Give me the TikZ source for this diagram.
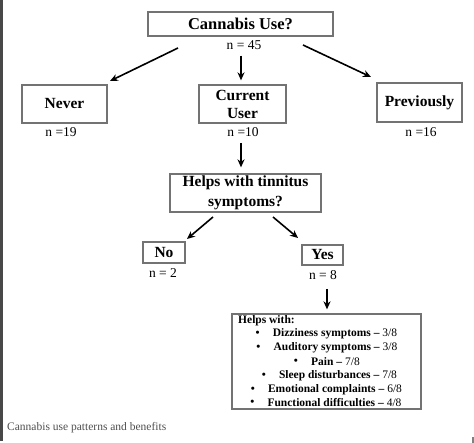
\documentclass[tikz,border=0pt]{standalone}
\usepackage{fontspec}
\setmainfont{Liberation Serif}
\usetikzlibrary{arrows.meta}
\definecolor{boxgray}{RGB}{115,115,115}
\definecolor{bargray}{RGB}{72,72,72}
\definecolor{capgray}{RGB}{80,80,80}
\begin{document}
\begin{tikzpicture}[x=1pt,y=-1pt,
  box/.style={draw=boxgray,line width=1.3pt,inner sep=0pt,align=center,font=\bfseries\fontsize{15.5}{18}\selectfont},
  count/.style={inner sep=0pt,font=\fontsize{13.5}{16}\selectfont},
  arr/.style={-{Stealth[length=8pt,width=7pt]},line width=1.6pt},
  itemtext/.style={inner sep=0pt,font=\fontsize{11.5}{14}\selectfont},
  bul/.style={inner sep=0pt,font=\bfseries\fontsize{11.5}{14}\selectfont}]
\fill[white] (0,0) rectangle (474,443);
\useasboundingbox (0,0) rectangle (474,443);
\fill[bargray] (0,0) rectangle (3,441);
\fill[gray] (472,437) rectangle (473.5,443);

% boxes
\node[box,minimum width=185pt,minimum height=24pt,font=\bfseries\fontsize{16.5}{19}\selectfont] (use) at (240.5,24) {Cannabis Use?};
\node[box,minimum width=85pt,minimum height=38pt] (never) at (64.5,104) {Never};
\node[box,minimum width=87pt,minimum height=38pt] (current) at (242.5,104) {Current\\User};
\node[box,minimum width=85pt,minimum height=39pt] (prev) at (419.5,102.5) {Previously};
\node[box,minimum width=151pt,minimum height=38pt,font=\bfseries\fontsize{15.5}{19.5}\selectfont] (helps) at (245.5,193) {Helps with tinnitus\\symptoms?};
\node[box,minimum width=42pt,minimum height=21pt] (no) at (164,252.5) {No};
\node[box,minimum width=41pt,minimum height=20pt] (yes) at (322.5,255) {Yes};
\node[box,minimum width=189pt,minimum height=95pt] (list) at (326.5,361.5) {};

% counts
\node[count] (n45) at (244,45) {n = 45};
\node[count] (n19) at (61,132) {n =19};
\node[count] (n10) at (243,132) {n =10};
\node[count] (n16) at (421,132) {n =16};
\node[count] (n2) at (163,273) {n = 2};
\node[count] (n8) at (323,275) {n = 8};

% arrows
\coordinate (a1s) at (178,48);
\coordinate (a1e) at (110,81);
\coordinate (a3s) at (303,45);
\coordinate (a3e) at (371,77);
\coordinate (b1s) at (213,217);
\coordinate (b1e) at (187,239);
\coordinate (b2s) at (273,217);
\coordinate (b2e) at (298,238);
\draw[arr] (a1s) -- (a1e);
\draw[arr] (a3s) -- (a3e);
\draw[arr] ([xshift=-3pt,yshift=-6pt]n45.south) -- ([xshift=-1.5pt,yshift=4pt]current.north);
\draw[arr] ([xshift=-2pt,yshift=-6pt]n10.south) -- ([xshift=-4.5pt,yshift=6pt]helps.north);
\draw[arr] (b1s) -- (b1e);
\draw[arr] (b2s) -- (b2e);
\draw[arr] ([xshift=4pt,yshift=-9pt]n8.south) -- ([xshift=0.5pt,yshift=4pt]list.north);

% list content
\node[itemtext,anchor=west,font=\bfseries\fontsize{11.5}{14}\selectfont] (hw) at (238,321) {Helps with:};
\node[itemtext] (i1) at (335,334) {\textbf{Dizziness symptoms –} 3/8};
\node[itemtext] (i2) at (335.5,348) {\textbf{Auditory symptoms –} 3/8};
\node[itemtext] (i3) at (335.5,362) {\textbf{Pain –} 7/8};
\node[itemtext] (i4) at (338,375.5) {\textbf{Sleep disturbances –} 7/8};
\node[itemtext] (i5) at (335,389.5) {\textbf{Emotional complaints –} 6/8};
\node[itemtext] (i6) at (334.5,403) {\textbf{Functional difficulties –} 4/8};
\foreach \i in {1,...,6}{\node[bul] (b\i) at ([xshift=-15pt]i\i.west) {•};}

% caption
\node[anchor=west,inner sep=0pt,text=capgray,font=\fontsize{11.5}{14}\selectfont] (cap) at (7,428) {Cannabis use patterns and benefits};
\end{tikzpicture}
\end{document}
